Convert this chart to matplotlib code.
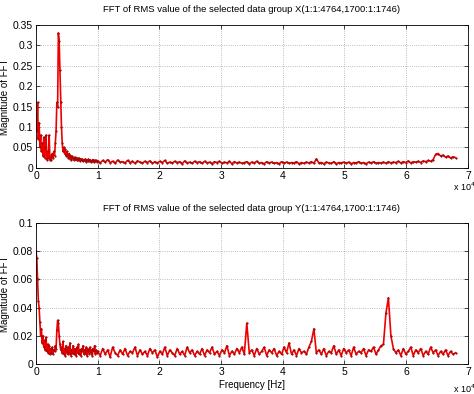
import numpy as np
import matplotlib
matplotlib.use("Agg")
import matplotlib.pyplot as plt
from matplotlib.ticker import FormatStrFormatter

plt.rcParams.update({
    "font.family": ["Liberation Sans", "DejaVu Sans"],
    "font.size": 7,
    "axes.linewidth": 0.6,
})

# ---- data (frequency in units of 1e4 Hz) ----
# low band 0 .. 1 (fine resolution), high band 1 .. 6.8
x_low = [0.13, 0.09, 0.16, 0.07, 0.11, 0.05, 0.08, 0.04, 0.06, 0.03,
         0.075, 0.025, 0.05, 0.08, 0.02, 0.04, 0.025, 0.08, 0.02, 0.03,
         0.02, 0.035, 0.025, 0.04, 0.03, 0.06, 0.09, 0.16, 0.15, 0.33,
         0.31, 0.24, 0.16, 0.10, 0.06, 0.04, 0.05, 0.035, 0.045, 0.03,
         0.04,
         0.03, 0.025, 0.035, 0.022, 0.03, 0.02, 0.028, 0.024, 0.019, 0.026,
         0.021, 0.025, 0.018, 0.024, 0.02, 0.023, 0.017, 0.022, 0.019, 0.021,
         0.016, 0.02, 0.018, 0.022, 0.015, 0.019, 0.017, 0.021, 0.016, 0.02,
         0.015, 0.018, 0.017, 0.02, 0.014, 0.019, 0.016, 0.018, 0.015]
x_high = [0.017, 0.012, 0.018, 0.014, 0.02, 0.013, 0.016, 0.011, 0.019, 0.014,
          0.015, 0.012, 0.018, 0.013, 0.016, 0.011, 0.017, 0.014, 0.012, 0.016,
          0.013, 0.017, 0.011, 0.015, 0.012, 0.016, 0.013, 0.018, 0.011, 0.014,
          0.012, 0.016, 0.013, 0.015, 0.01, 0.017, 0.012, 0.014, 0.011, 0.016,
          0.013, 0.015, 0.011, 0.016, 0.012, 0.014, 0.01, 0.015, 0.013, 0.016,
          0.011, 0.014, 0.012, 0.016, 0.01, 0.015, 0.012, 0.014, 0.011, 0.013,
          0.015, 0.01, 0.014, 0.012, 0.016, 0.011, 0.013, 0.01, 0.015, 0.012,
          0.014, 0.011, 0.013, 0.01, 0.015, 0.012, 0.014, 0.011, 0.013, 0.012,
          0.015, 0.01, 0.013, 0.011, 0.014, 0.012, 0.015, 0.011, 0.022, 0.012,
          0.013, 0.01, 0.014, 0.012, 0.011, 0.015, 0.01, 0.013, 0.012, 0.014,
          0.011, 0.014, 0.01, 0.013, 0.012, 0.015, 0.011, 0.013, 0.01, 0.014,
          0.012, 0.015, 0.011, 0.013, 0.012, 0.014, 0.011, 0.015, 0.012, 0.014,
          0.013, 0.016, 0.012, 0.015, 0.013, 0.017, 0.012, 0.015, 0.014, 0.016,
          0.013, 0.017, 0.015, 0.018,
          0.016, 0.02, 0.033, 0.035, 0.029, 0.031, 0.026, 0.029, 0.024, 0.027,
          0.025]

y_low = [0.08, 0.075, 0.06, 0.045, 0.04, 0.03, 0.02, 0.025, 0.015, 0.02,
         0.012, 0.017, 0.01, 0.019, 0.009, 0.014, 0.008, 0.013, 0.007, 0.011,
         0.008, 0.012, 0.007, 0.01, 0.009, 0.013, 0.011, 0.024, 0.031, 0.029,
         0.02, 0.014, 0.01,
         0.012, 0.008, 0.016, 0.007, 0.011, 0.006, 0.013, 0.009, 0.007, 0.012,
         0.008, 0.015, 0.006, 0.01, 0.008, 0.013, 0.007, 0.011, 0.009, 0.006,
         0.012, 0.008, 0.014, 0.007, 0.01, 0.006, 0.011, 0.009, 0.013, 0.007,
         0.01, 0.008, 0.012, 0.006, 0.011, 0.009, 0.007, 0.012, 0.008, 0.01,
         0.006, 0.011, 0.009, 0.013, 0.007, 0.01, 0.008]
y_high = [0.009, 0.006, 0.011, 0.007, 0.01, 0.005, 0.012, 0.008, 0.006, 0.01,
          0.007, 0.011, 0.006, 0.009, 0.008, 0.012, 0.006, 0.01, 0.007, 0.009,
          0.006, 0.011, 0.008, 0.01, 0.005, 0.009, 0.007, 0.012, 0.006, 0.01,
          0.008, 0.006, 0.011, 0.007, 0.009, 0.006, 0.012, 0.008, 0.01, 0.006,
          0.009, 0.007, 0.011, 0.006, 0.01, 0.008, 0.012, 0.007, 0.009, 0.006,
          0.01, 0.008, 0.013, 0.006, 0.009, 0.007, 0.011, 0.008, 0.012, 0.007,
          0.029, 0.008, 0.01, 0.006, 0.011, 0.007, 0.009, 0.012, 0.006, 0.01,
          0.008, 0.011, 0.006, 0.009, 0.007, 0.012, 0.008, 0.015, 0.007, 0.01,
          0.006, 0.011, 0.008, 0.009, 0.007, 0.012, 0.016, 0.025, 0.008, 0.01,
          0.007, 0.011, 0.006, 0.009, 0.008, 0.013, 0.007, 0.01, 0.006, 0.011,
          0.008, 0.01, 0.006, 0.012, 0.007, 0.009, 0.008, 0.011, 0.006, 0.01,
          0.009, 0.012, 0.007, 0.01, 0.013, 0.014, 0.036, 0.047, 0.02, 0.011,
          0.008, 0.01, 0.006, 0.011, 0.007, 0.009, 0.012, 0.006, 0.01, 0.008,
          0.011, 0.006, 0.009, 0.007, 0.012, 0.008, 0.01, 0.006, 0.009, 0.007,
          0.01, 0.006, 0.009, 0.007, 0.008]

titles = ["FFT of RMS value of the selected data group X(1:1:4764,1700:1:1746)",
          "FFT of RMS value of the selected data group Y(1:1:4764,1700:1:1746)"]
yticks_top = [0, 0.05, 0.1, 0.15, 0.2, 0.25, 0.3, 0.35]
yticks_bot = [0, 0.02, 0.04, 0.06, 0.08, 0.1]


def spectrum(low, high):
    f = np.concatenate([np.linspace(0, 1, len(low), endpoint=False),
                        np.linspace(1, 6.8, len(high))])
    return f, np.array(low + high)


fig = plt.figure(figsize=(4.74, 3.94), dpi=100)
ax1 = fig.add_axes([0.076, 0.574, 0.911, 0.363])
ax2 = fig.add_axes([0.076, 0.076, 0.911, 0.358])

for ax, (lo, hi), ttl, yt in ((ax1, (x_low, x_high), titles[0], yticks_top),
                              (ax2, (y_low, y_high), titles[1], yticks_bot)):
    f, m = spectrum(lo, hi)
    ax.plot(f, m, color="#ee0000", lw=1.2, marker=".", ms=2.4,
            mfc="#cc0000", mec="#771111", mew=0.3)
    ax.set_xlim(0, 7)
    ax.set_ylim(yt[0], yt[-1])
    ax.set_xticks(range(8))
    ax.set_yticks(yt)
    ax.yaxis.set_major_formatter(FormatStrFormatter("%g"))
    ax.grid(True, ls=":", color="#a8a8a8", lw=0.6)
    ax.tick_params(direction="in", top=True, right=True, length=3, width=0.5,
                   labelsize=7.5, pad=2)
    ax.set_ylabel("Magnitude of FFT", fontsize=7, labelpad=2)
    ax.set_title(ttl, fontsize=6.8, pad=9)

ax2.set_xlabel("Frequency [Hz]", fontsize=7, labelpad=2)
fig.text(0.955, 0.525, "x 10$^{4}$", fontsize=6.5, ha="left", va="center")
fig.text(0.955, 0.012, "x 10$^{4}$", fontsize=6.5, ha="left", va="center")

fig.savefig("out.png", dpi=100)
